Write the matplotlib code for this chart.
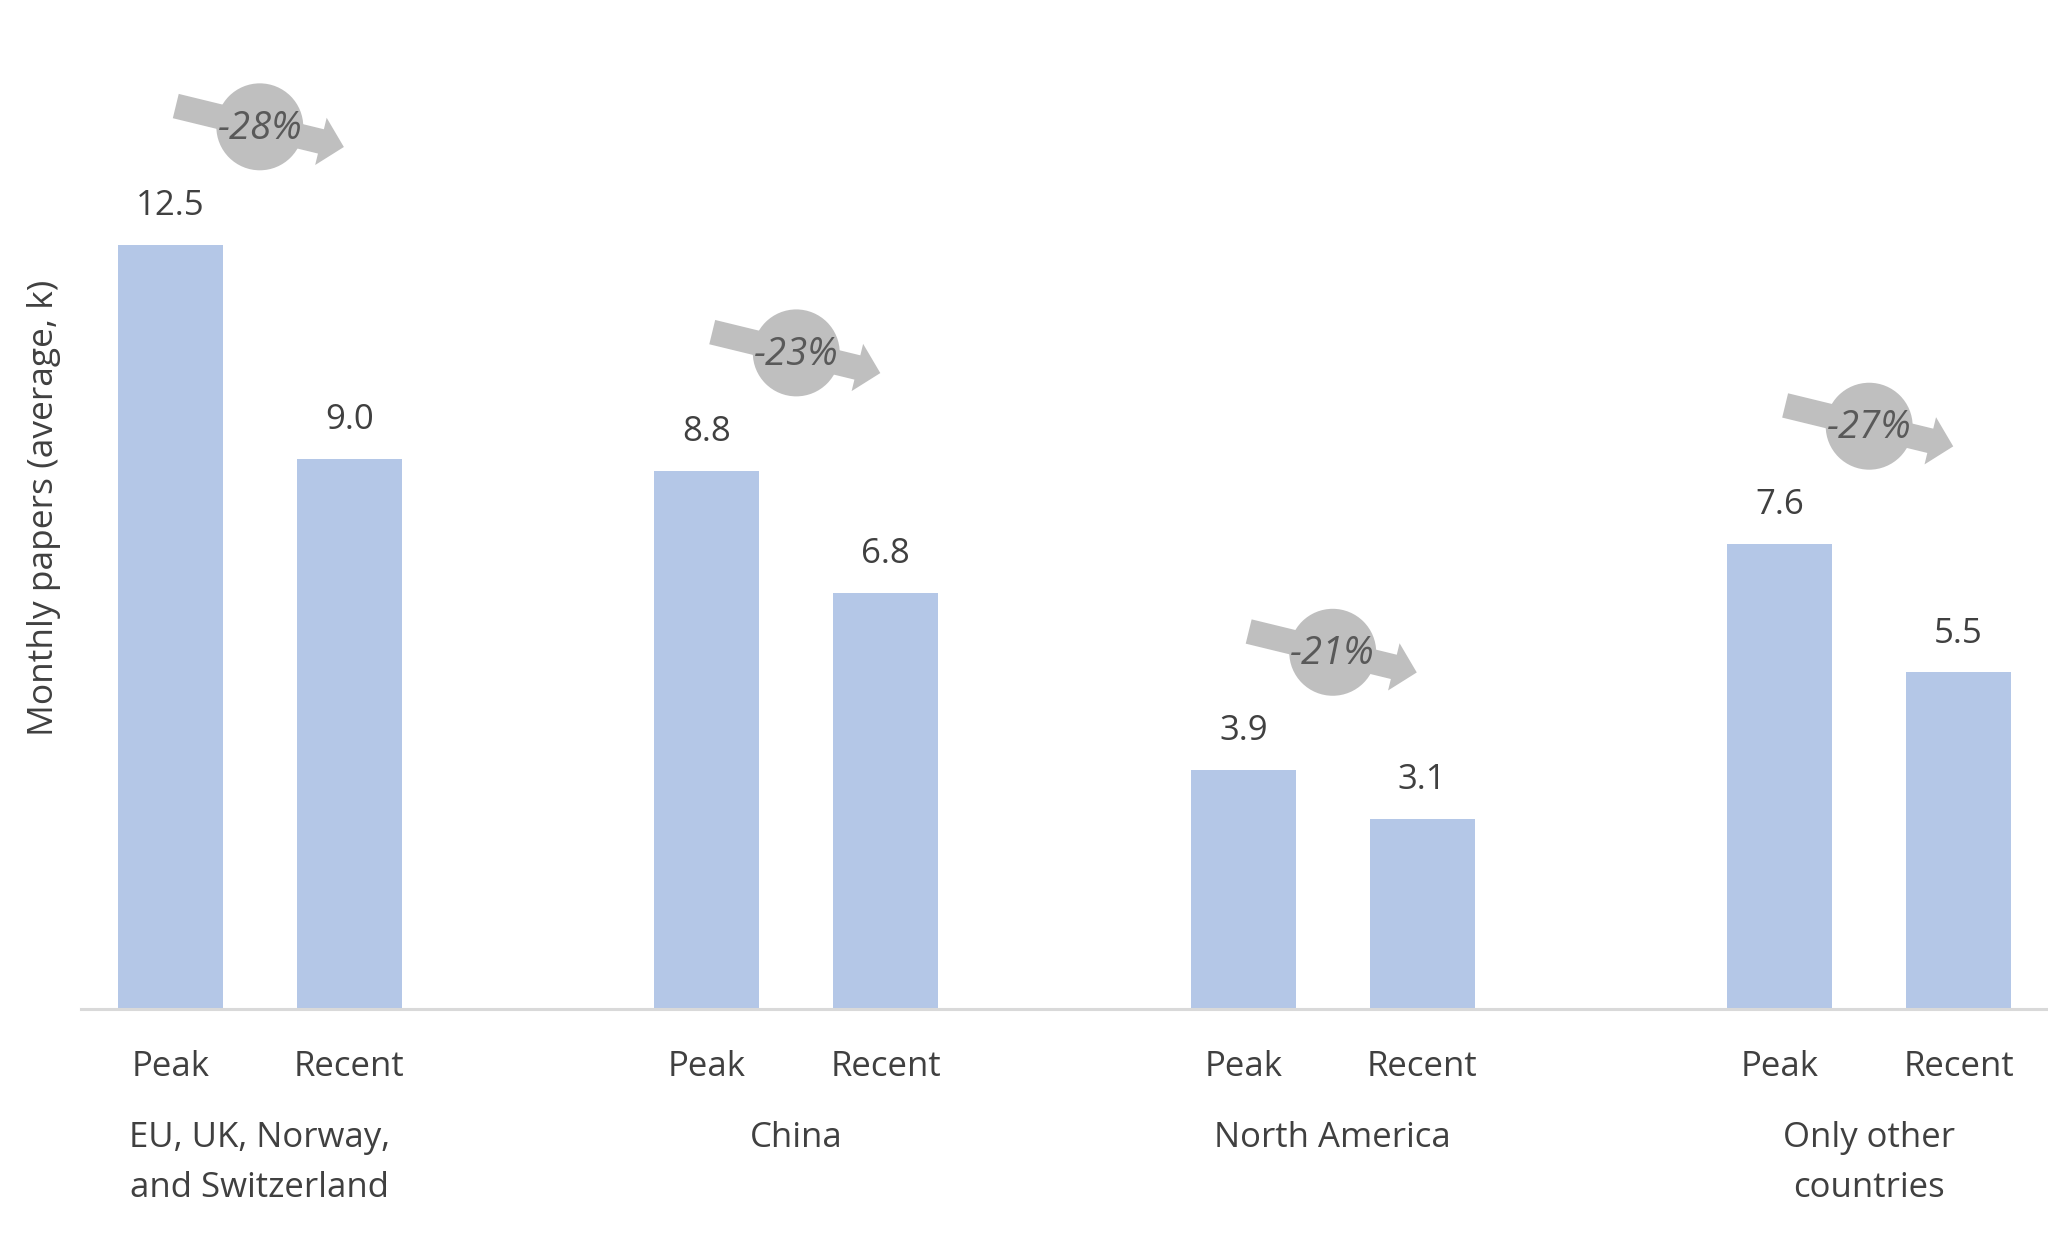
import matplotlib
matplotlib.use("Agg")
import matplotlib.pyplot as plt
from matplotlib.transforms import blended_transform_factory

plt.rcParams['font.family'] = ['Open Sans', 'DejaVu Sans']

regions = ["EU, UK, Norway,\nand Switzerland", "China", "North America", "Only other\ncountries"]
bar_labels = ["Peak", "Recent"]
peak = [12.5, 8.8, 3.9, 7.6]
recent = [9.0, 6.8, 3.1, 5.5]
changes = ["-28%", "-23%", "-21%", "-27%"]

BAR = "#B4C7E7"
GREY = "#BFBFBF"
TXT = "#404040"
FS = 25

fig = plt.figure(figsize=(20.48, 12.34), dpi=100)
ax = fig.add_axes([81 / 2048, 1 - 1008.5 / 1234, 1 - 81 / 2048, 977.6 / 1234])

xs_peak = [3 * i for i in range(len(regions))]
xs_recent = [3 * i + 1 for i in range(len(regions))]

ax.bar(xs_peak, peak, width=0.587, color=BAR, zorder=2)
ax.bar(xs_recent, recent, width=0.587, color=BAR, zorder=2)

ax.set_xlim(-0.5, 3 * len(regions) - 1.5)
ax.set_ylim(0, 16)

for s in ["top", "left", "right"]:
    ax.spines[s].set_visible(False)
ax.spines["bottom"].set_color("#D9D9D9")
ax.spines["bottom"].set_linewidth(2.2)
ax.set_yticks([])

ticks = []
tlabels = []
for p, r in zip(xs_peak, xs_recent):
    ticks += [p, r]
    tlabels += bar_labels
ax.set_xticks(ticks)
ax.set_xticklabels(tlabels, fontsize=FS, color=TXT)
ax.tick_params(axis="x", length=0, pad=48.5)
for lab in ax.get_xticklabels():
    lab.set_va("baseline")

trans = blended_transform_factory(ax.transData, ax.transAxes)
for i, name in enumerate(regions):
    cx = (xs_peak[i] + xs_recent[i]) / 2
    for j, line in enumerate(name.split("\n")):
        ax.annotate(line, xy=(cx, 0), xycoords=trans, xytext=(0, -99.4 - 36 * j),
                    textcoords="offset points", ha="center", va="baseline",
                    fontsize=FS, color=TXT, annotation_clip=False)

for x, v in list(zip(xs_peak, peak)) + list(zip(xs_recent, recent)):
    ax.annotate(f"{v:.1f}", xy=(x, v), xytext=(0, 21.5), textcoords="offset points",
                ha="center", va="baseline", fontsize=FS, color=TXT)

for i in range(len(regions)):
    px, rx, pv = xs_peak[i], xs_recent[i], peak[i]
    ax.annotate("", xy=(rx - 0.03, pv + 1.60), xytext=(px + 0.03, pv + 2.27),
                arrowprops=dict(arrowstyle="simple,head_length=17,head_width=35,tail_width=18",
                                mutation_scale=1, fc=GREY, ec="none", shrinkA=0, shrinkB=0),
                zorder=3)
    cx = (px + rx) / 2
    ax.scatter([cx], [pv + 1.93], s=3920, color=GREY, edgecolors="none", zorder=4, clip_on=False)
    ax.text(cx, pv + 1.90, changes[i], ha="center", va="center", fontsize=27.5,
            style="italic", color="#595959", zorder=5)

fig.text(44 / 2048, 1 - 508 / 1234, "Monthly papers (average, k)", rotation=90,
         ha="center", va="center", fontsize=25.5, color=TXT)

fig.savefig("out.png", dpi=100)
